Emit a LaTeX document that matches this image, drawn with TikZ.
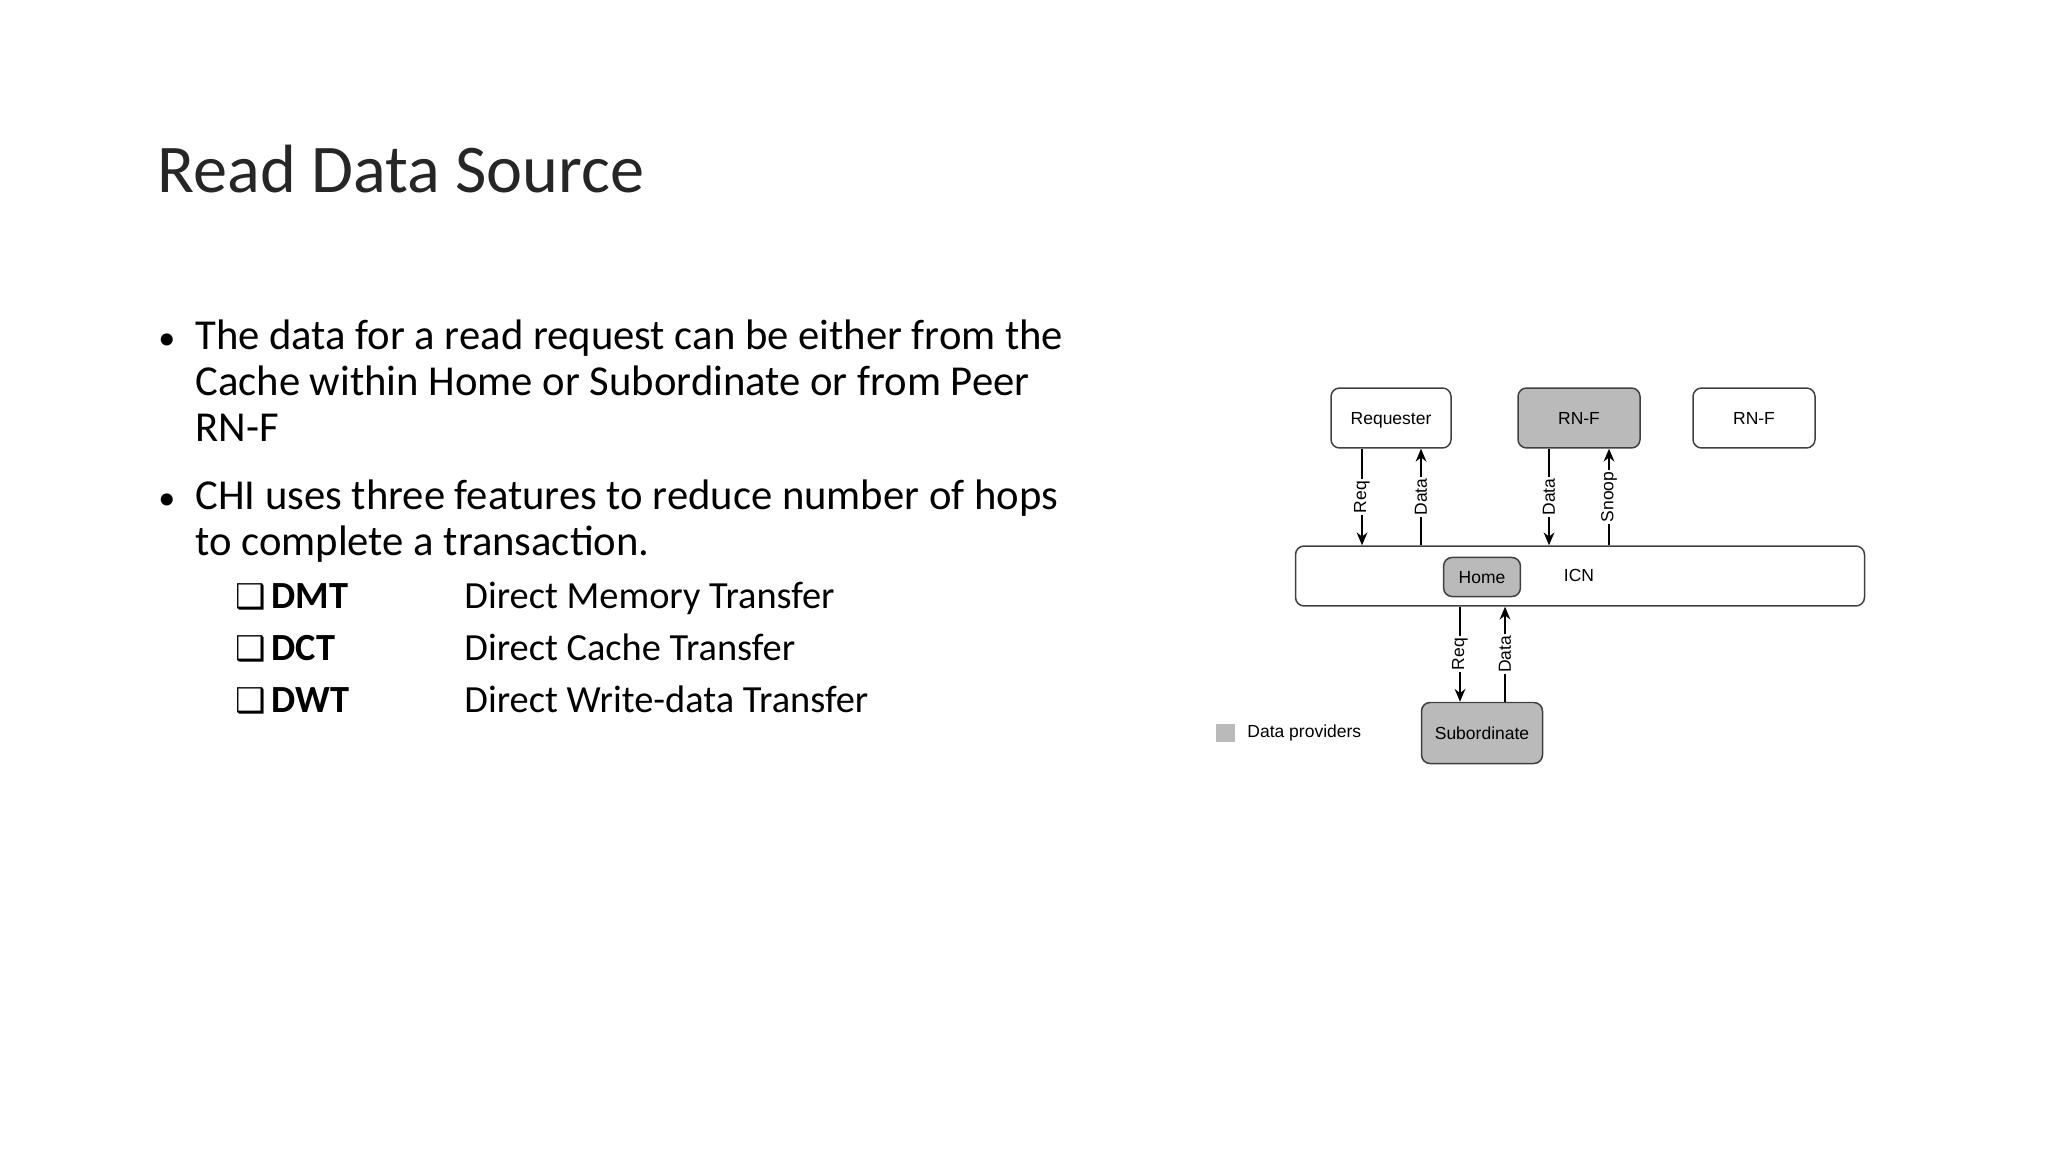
\documentclass[tikz,border=0pt]{standalone}
\usepackage{fontspec}
\setmainfont{Carlito}
\newfontfamily\arialf{Liberation Sans}
\usetikzlibrary{arrows.meta}
\begin{document}
\begin{tikzpicture}[x=0.46875pt,y=-0.46875pt,
  box/.style={draw=black!75,line width=0.7pt,rounded corners=4pt,font=\arialf\fontsize{8.2}{10}\selectfont,inner sep=0pt,text depth=0pt},
  gbox/.style={box,fill=black!27},
  arr/.style={line width=1.2pt,-{Stealth[length=6pt,width=5pt]}},
  lab/.style={midway,rotate=90,fill=white,inner sep=0.8pt,font=\arialf\fontsize{8.2}{9}\selectfont},
  txt/.style={anchor=base west,inner sep=0pt,font=\fontsize{20}{24}\selectfont},
  stxt/.style={anchor=base west,inner sep=0pt,font=\fontsize{18}{22}\selectfont}]
\useasboundingbox (0,0) rectangle (2048,1152);
\node[anchor=base west,inner sep=0pt,font=\fontsize{32}{40}\selectfont,text=black!85] (title) at (157,193) {Read Data Source};
% bullets
\node[txt] (b1) at (158,349) {\fontsize{16}{20}\selectfont•};
\node[txt] (t1a) at (195,349) {The data for a read request can be either from the};
\node[txt] (t1b) at (195,395) {Cache within Home or Subordinate or from Peer};
\node[txt] (t1c) at (195,441) {RN-F};
\node[txt] (b2) at (158,509) {\fontsize{16}{20}\selectfont•};
\node[txt] (t2a) at (195,509) {CHI uses three features to reduce number of hops};
\node[txt] (t2b) at (195,555) {to complete a transaction.};
\foreach \y/\a/\b [count=\i] in {608/DMT/Direct Memory Transfer,660/DCT/Direct Cache Transfer,712/DWT/Direct Write-data Transfer}{
  \node[stxt] (k\i) at (235,\y) {\fontspec{DejaVu Sans}\fontsize{16}{20}\selectfont\bfseries ❑\hspace{2.5pt}\fontspec{Carlito}\fontsize{18}{22}\selectfont\textbf{\a}};
  \node[stxt] (d\i) at (464,\y) {\b};
}
% diagram
\node[box,minimum width=266.7pt,minimum height=28.1pt] (icn) at (1580,576) {};
\node[font=\arialf\fontsize{8.2}{10}\selectfont] (icnl) at (1579,575) {ICN};
\node[gbox,minimum width=36pt,minimum height=18.3pt] (home) at (1482,577) {Home};
\node[box,minimum width=56.25pt,minimum height=28.1pt] (req) at (1391,418) {Requester};
\node[gbox,minimum width=57.2pt,minimum height=28.1pt] (rnf1) at (1579,418) {RN-F};
\node[box,minimum width=57.2pt,minimum height=28.1pt] (rnf2) at (1754,418) {RN-F};
\node[gbox,minimum width=56.7pt,minimum height=28.6pt] (sub) at (1482,733) {Subordinate};
\draw[arr] (1362,0 |- req.south) -- node[lab]{Req} (1362,0 |- icn.north);
\draw[arr] (1421,0 |- icn.north) -- node[lab]{Data} (1421,0 |- req.south);
\draw[arr] (1549,0 |- rnf1.south) -- node[lab]{Data} (1549,0 |- icn.north);
\draw[arr] (1609,0 |- icn.north) -- node[lab]{Snoop} (1609,0 |- rnf1.south);
\draw[arr] (1460,0 |- icn.south) -- node[lab]{Req} (1460,0 |- sub.north);
\draw[arr] (1505,0 |- sub.north) -- node[lab]{Data} (1505,0 |- icn.south);
\node[fill=black!27,minimum width=8.9pt,minimum height=8.9pt,inner sep=0pt] (leg) at (1225,733) {};
\node[anchor=west,inner sep=0pt,font=\arialf\fontsize{8.2}{10}\selectfont] (legt) at (1247,733) {Data providers};
\end{tikzpicture}
\end{document}
